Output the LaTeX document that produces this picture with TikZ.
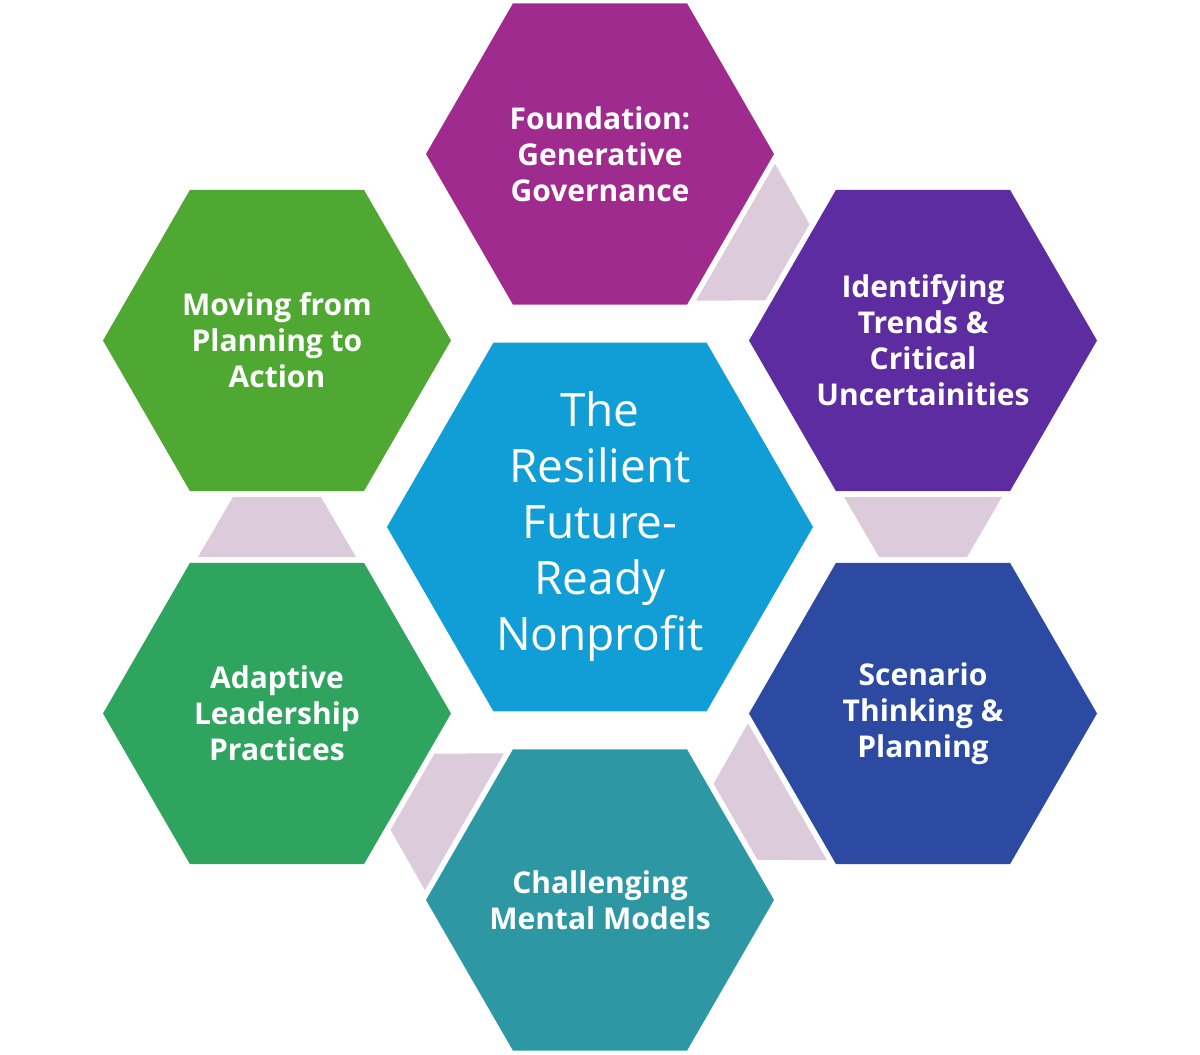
\documentclass[tikz,border=0pt]{standalone}
\usepackage{fontspec}
\setmainfont{Open Sans}
\usetikzlibrary{shapes.geometric,calc}
\definecolor{Corefill}{RGB}{17,158,214}
\definecolor{Foundfill}{RGB}{159,43,143}
\definecolor{Trendfill}{RGB}{93,44,160}
\definecolor{Scenfill}{RGB}{44,74,161}
\definecolor{Mentalfill}{RGB}{46,151,164}
\definecolor{Adaptfill}{RGB}{46,164,94}
\definecolor{Actionfill}{RGB}{79,168,50}
\definecolor{Linkfill}{RGB}{220,204,219}
\tikzset{
  hexbox/.style={regular polygon,regular polygon sides=6,inner sep=-30pt,outer sep=0pt,
    minimum size=174pt,text=white,align=center,font=\bfseries\fontsize{15}{18}\selectfont},
}

\begin{document}
\begin{tikzpicture}[x=0.5pt,y=0.5pt]
\path[use as bounding box] (-600,-528) rectangle (600,527);
\node[hexbox,fill=Corefill,minimum size=213pt,font=\fontsize{23}{28}\selectfont] (core) at (0,0) {The\\Resilient\\Future-\\Ready\\Nonprofit};
\node[hexbox,fill=Foundfill] (found) at (90:373) {Foundation:\\Generative\\Governance};
\node[hexbox,fill=Trendfill] (trend) at (30:373) {Identifying\\Trends \&\\Critical\\Uncertainities};
\node[hexbox,fill=Scenfill] (scen) at (-30:373) {Scenario\\Thinking \&\\Planning};
\node[hexbox,fill=Mentalfill] (mental) at (-90:373) {Challenging\\Mental Models};
\node[hexbox,fill=Adaptfill] (adapt) at (210:373) {Adaptive\\Leadership\\Practices};
\node[hexbox,fill=Actionfill] (action) at (150:373) {Moving from\\Planning to\\Action};
\foreach \a/\b in {found/trend,trend/scen,scen/mental,mental/adapt,adapt/action}{
  \coordinate (m) at ($(\a.center)!0.5!(\b.center)$);
  \coordinate (w) at ($(m)!15pt!(\a.center)$);
  \coordinate (n) at ($(m)!15pt!(\b.center)$);
  \fill[Linkfill] ($(w)!39.5pt!90:(\b.center)$) -- ($(n)!22pt!90:(\b.center)$)
    -- ($(n)!22pt!-90:(\b.center)$) -- ($(w)!39.5pt!-90:(\b.center)$) -- cycle;
}
\end{tikzpicture}
\end{document}
